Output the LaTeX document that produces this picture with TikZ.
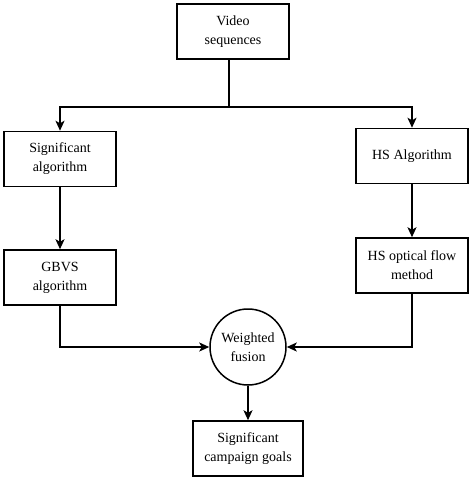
\documentclass[tikz,border=0pt]{standalone}
\usepackage{fontspec}
\setmainfont{Liberation Serif}
\usetikzlibrary{shapes,arrows.meta,calc,positioning}

\begin{document}
\begin{tikzpicture}[x=1pt,y=-1pt,
	stepbox/.style={rectangle,draw,line width=1.5pt,minimum width=112pt,minimum height=55pt,align=center,font=\fontsize{14}{19}\selectfont,inner sep=2pt},
	fusion/.style={circle,draw,line width=1.5pt,minimum size=76pt,align=center,font=\fontsize{14}{19}\selectfont,inner sep=0pt},
	flow/.style={line width=1.5pt,-{Stealth[length=10pt,width=9pt,inset=2.5pt]}},
	wire/.style={line width=1.5pt}]
	\useasboundingbox (0,0) rectangle (472,480);

	\node[stepbox] at (233,31.5) (video) {Video\\sequences};
	\node[stepbox] at (60,159) (sig) {Significant\\algorithm};
	\node[stepbox] at (60,277.5) (gbvs) {GBVS\\algorithm};
	\node[stepbox] at (412,156) (hs) {HS Algorithm};
	\node[stepbox] at (412,265.5) (hsflow) {HS optical flow\\method};
	\node[fusion] at (248,347) (fuse) {Weighted\\fusion};
	\node[stepbox,minimum width=110pt] at (248,448.5) (goals) {Significant\\campaign goals};

	\coordinate (split) at (229,107);

	\draw[wire] (video.south -| split) -- (split);
	\draw[flow] (split) -| (sig.north);
	\draw[flow] (split) -| (hs.north);
	\draw[flow] (sig) -- (gbvs);
	\draw[flow] (hs) -- (hsflow);
	\draw[flow] (gbvs.south) |- (fuse.west);
	\draw[flow] (hsflow.south) |- (fuse.east);
	\draw[flow] (fuse) -- (goals);
\end{tikzpicture}
\end{document}
